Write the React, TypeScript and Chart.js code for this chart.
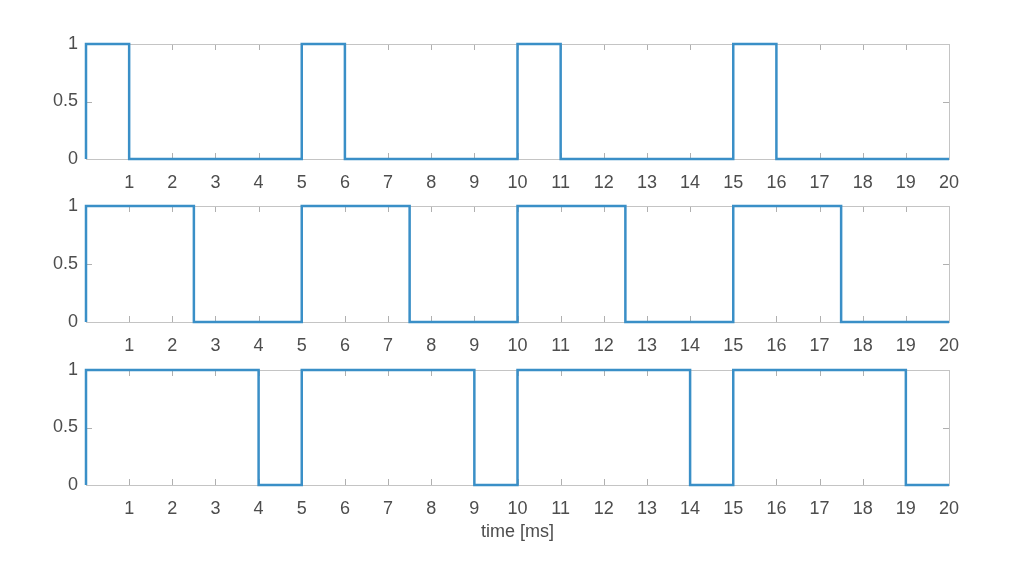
import { useEffect, useRef } from 'react';
import { Chart, registerables } from 'chart.js';
import type { Plugin } from 'chart.js';

Chart.register(...registerables);

// time points [ms] and signal levels for each panel
const t1 = [0, 0, 1, 1, 5, 5, 6, 6, 10, 10, 11, 11, 15, 15, 16, 16, 20];
const t2 = [0, 0, 2.5, 2.5, 5, 5, 7.5, 7.5, 10, 10, 12.5, 12.5, 15, 15, 17.5, 17.5, 20];
const t3 = [0, 0, 4, 4, 5, 5, 9, 9, 10, 10, 14, 14, 15, 15, 19, 19, 20];
const levels = [0, 1, 1, 0, 0, 1, 1, 0, 0, 1, 1, 0, 0, 1, 1, 0, 0];

const xTicks = [1, 2, 3, 4, 5, 6, 7, 8, 9, 10, 11, 12, 13, 14, 15, 16, 17, 18, 19, 20];
const yTicks = [0, 0.5, 1];
const yLabels = ['0', '0.5', '1'];
const xTitle = 'time [ms]';

const lineColor = '#3a8fc7';
const boxColor  = '#c4c4c4';
const tickMark  = '#b0b0b0';
const textColor = '#4d4d4d';
const fontFam   = '"Liberation Sans", Arial, Helvetica, sans-serif';

// MATLAB-like box with inward ticks on all four sides
const boxPlugin: Plugin<'line'> = {
  id: 'matlabBox',
  beforeDatasetsDraw(chart) {
    const { ctx, chartArea: a, scales } = chart;
    const x = scales.x, y = scales.y;
    const len = 6;
    ctx.save();
    ctx.strokeStyle = tickMark;
    ctx.lineWidth = 1;
    ctx.beginPath();
    xTicks.forEach((v) => {
      const px = Math.round(x.getPixelForValue(v)) + 0.5;
      ctx.moveTo(px, a.bottom); ctx.lineTo(px, a.bottom - len);
      ctx.moveTo(px, a.top); ctx.lineTo(px, a.top + len);
    });
    yTicks.forEach((v) => {
      const py = Math.round(y.getPixelForValue(v)) + 0.5;
      ctx.moveTo(a.left, py); ctx.lineTo(a.left + len, py);
      ctx.moveTo(a.right, py); ctx.lineTo(a.right - len, py);
    });
    ctx.stroke();
    ctx.strokeStyle = boxColor;
    ctx.strokeRect(Math.round(a.left) + 0.5, Math.round(a.top) + 0.5,
      Math.round(a.right - a.left), Math.round(a.bottom - a.top));
    ctx.restore();
  },
};

interface PanelProps {
  times: number[];
  top: number;
  bottom: number;
  showTitle?: boolean;
}

function Panel({ times, top, bottom, showTitle }: PanelProps) {
  const ref = useRef<HTMLCanvasElement>(null);
  const padTop = 30;
  const below = showTitle ? 58 : 46;
  const height = bottom - top + padTop + below;

  useEffect(() => {
    if (!ref.current) return;
    const chart = new Chart(ref.current, {
      type: 'line',
      data: {
        datasets: [{
          data: times.map((t, i) => ({ x: t, y: levels[i] })),
          borderColor: lineColor,
          borderWidth: 2.5,
          pointRadius: 0,
          tension: 0,
          fill: false,
          clip: false as any,
        }],
      },
      options: {
        responsive: false,
        animation: false,
        devicePixelRatio: 1,
        layout: { padding: { top: padTop, left: 0, right: 75, bottom: 0 } },
        plugins: { legend: { display: false }, tooltip: { enabled: false } },
        scales: {
          x: {
            type: 'linear',
            min: 0,
            max: 20,
            grid: { display: false, drawTicks: false },
            border: { display: false },
            afterBuildTicks: (s) => { s.ticks = xTicks.map((v) => ({ value: v })); },
            afterFit: (s) => { s.height = below; },
            ticks: {
              color: textColor,
              padding: 13,
              maxRotation: 0,
              autoSkip: false,
              font: { family: fontFam, size: 18 },
            },
            title: {
              display: !!showTitle,
              text: xTitle,
              color: textColor,
              padding: { top: 2, bottom: 0 },
              font: { family: fontFam, size: 18 },
            },
          },
          y: {
            min: 0,
            max: 1,
            grid: { display: false, drawTicks: false },
            border: { display: false },
            afterBuildTicks: (s) => { s.ticks = yTicks.map((v) => ({ value: v })); },
            afterFit: (s) => { s.width = 86; },
            ticks: {
              color: textColor,
              padding: 8,
              font: { family: fontFam, size: 18 },
              callback: (_v, i) => yLabels[i],
            },
          },
        },
      },
      plugins: [boxPlugin],
    });
    return () => chart.destroy();
  }, [times, top, bottom, showTitle]);

  return (
    <canvas
      ref={ref}
      width={1024}
      height={height}
      style={{ position: 'absolute', left: 0, top: top - padTop, width: 1024, height }}
    />
  );
}

export default function App() {
  return (
    <div style={{ position: 'fixed', left: 0, top: 0, width: 1024, height: 561, background: '#fff', overflow: 'hidden' }}>
      <Panel times={t1} top={44} bottom={159} />
      <Panel times={t2} top={206} bottom={322} />
      <Panel times={t3} top={370} bottom={485} showTitle />
    </div>
  );
}
